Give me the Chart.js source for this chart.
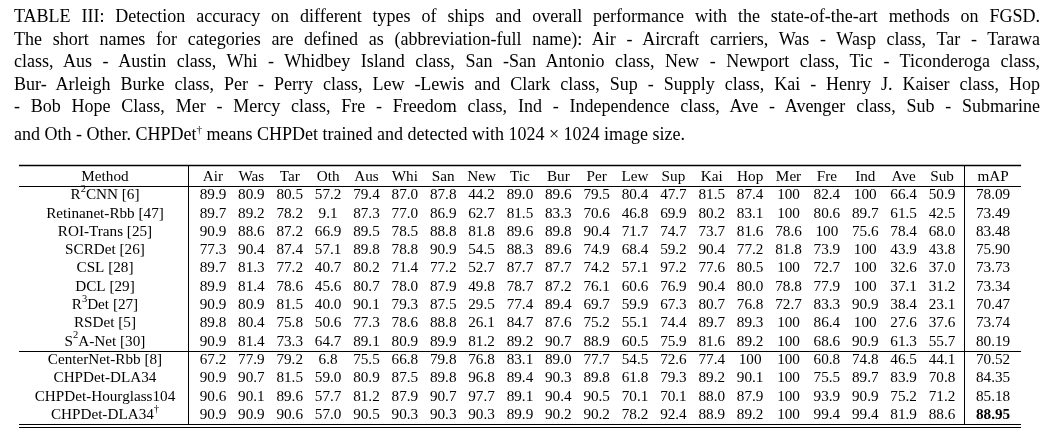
<!DOCTYPE html>
<html><head><meta charset="utf-8">
<script src="https://cdn.jsdelivr.net/npm/chart.js@4.4.0/dist/chart.umd.min.js"></script>
<style>
html,body{margin:0;padding:0;background:#fff;width:1053px;height:443px;overflow:hidden}
#cap{position:absolute;left:14px;top:5px;width:1026px;font-family:"Liberation Serif",serif;font-size:18px;line-height:22.6px;color:#000}
#cap span{display:block;white-space:nowrap;text-align:justify;text-align-last:justify}
#cap span.last{text-align-last:left}
#wrap{position:absolute;left:0;top:0;width:1053px;height:443px}
</style></head><body>
<div id="wrap"><canvas id="c"></canvas></div>
<div id="cap"><span>TABLE III: Detection accuracy on different types of ships and overall performance with the state-of-the-art methods on FGSD.</span><span>The short names for categories are defined as (abbreviation-full name): Air - Aircraft carriers, Was - Wasp class, Tar - Tarawa</span><span>class, Aus - Austin class, Whi - Whidbey Island class, San -San Antonio class, New - Newport class, Tic - Ticonderoga class,</span><span>Bur- Arleigh Burke class, Per - Perry class, Lew -Lewis and Clark class, Sup - Supply class, Kai - Henry J. Kaiser class, Hop</span><span>- Bob Hope Class, Mer - Mercy class, Fre - Freedom class, Ind - Independence class, Ave - Avenger class, Sub - Submarine</span><span class="last">and Oth - Other. CHPDet<sup style="font-size:11px">†</sup> means CHPDet trained and detected with 1024 × 1024 image size.</span></div>
<script>
const categories = ["Air","Was","Tar","Oth","Aus","Whi","San","New","Tic","Bur","Per","Lew","Sup","Kai","Hop","Mer","Fre","Ind","Ave","Sub"];
const methods = ["R^2CNN [6]","Retinanet-Rbb [47]","ROI-Trans [25]","SCRDet [26]","CSL [28]","DCL [29]","R^3Det [27]","RSDet [5]","S^2A-Net [30]","CenterNet-Rbb [8]","CHPDet-DLA34","CHPDet-Hourglass104","CHPDet-DLA34^†"];
const scores = [
["89.9","80.9","80.5","57.2","79.4","87.0","87.8","44.2","89.0","89.6","79.5","80.4","47.7","81.5","87.4","100","82.4","100","66.4","50.9"],
["89.7","89.2","78.2","9.1","87.3","77.0","86.9","62.7","81.5","83.3","70.6","46.8","69.9","80.2","83.1","100","80.6","89.7","61.5","42.5"],
["90.9","88.6","87.2","66.9","89.5","78.5","88.8","81.8","89.6","89.8","90.4","71.7","74.7","73.7","81.6","78.6","100","75.6","78.4","68.0"],
["77.3","90.4","87.4","57.1","89.8","78.8","90.9","54.5","88.3","89.6","74.9","68.4","59.2","90.4","77.2","81.8","73.9","100","43.9","43.8"],
["89.7","81.3","77.2","40.7","80.2","71.4","77.2","52.7","87.7","87.7","74.2","57.1","97.2","77.6","80.5","100","72.7","100","32.6","37.0"],
["89.9","81.4","78.6","45.6","80.7","78.0","87.9","49.8","78.7","87.2","76.1","60.6","76.9","90.4","80.0","78.8","77.9","100","37.1","31.2"],
["90.9","80.9","81.5","40.0","90.1","79.3","87.5","29.5","77.4","89.4","69.7","59.9","67.3","80.7","76.8","72.7","83.3","90.9","38.4","23.1"],
["89.8","80.4","75.8","50.6","77.3","78.6","88.8","26.1","84.7","87.6","75.2","55.1","74.4","89.7","89.3","100","86.4","100","27.6","37.6"],
["90.9","81.4","73.3","64.7","89.1","80.9","89.9","81.2","89.2","90.7","88.9","60.5","75.9","81.6","89.2","100","68.6","90.9","61.3","55.7"],
["67.2","77.9","79.2","6.8","75.5","66.8","79.8","76.8","83.1","89.0","77.7","54.5","72.6","77.4","100","100","60.8","74.8","46.5","44.1"],
["90.9","90.7","81.5","59.0","80.9","87.5","89.8","96.8","89.4","90.3","89.8","61.8","79.3","89.2","90.1","100","75.5","89.7","83.9","70.8"],
["90.6","90.1","89.6","57.7","81.2","87.9","90.7","97.7","89.1","90.4","90.5","70.1","70.1","88.0","87.9","100","93.9","90.9","75.2","71.2"],
["90.9","90.9","90.6","57.0","90.5","90.3","90.3","90.3","89.9","90.2","90.2","78.2","92.4","88.9","89.2","100","99.4","99.4","81.9","88.6"]
];
const mAP = ["78.09","73.49","83.48","75.90","73.73","73.34","70.47","73.74","80.19","70.52","84.35","85.18","88.95"];
const boldMAP = "88.95";

const X_METHOD=-1.815, X_MAP=21.33;
const cells=[];
cells.push({x:X_METHOD,y:0,t:"Method"});
categories.forEach((c,i)=>cells.push({x:i+1,y:0,t:c}));
cells.push({x:X_MAP,y:0,t:"mAP"});
methods.forEach((m,r)=>{
  cells.push({x:X_METHOD,y:r+1,t:m});
  scores[r].forEach((v,i)=>cells.push({x:i+1,y:r+1,t:v}));
  cells.push({x:X_MAP,y:r+1,t:mAP[r],b:mAP[r]===boldMAP});
});
const FONT='"Liberation Serif", serif';
function drawRich(ctx,txt,x,y,bold){
  const base=(bold?'bold ':'')+'15.2px '+FONT, sup='10.5px '+FONT;
  const parts=[];const re=/\^(.)/g;let last=0,m;
  while((m=re.exec(txt))){parts.push({s:txt.slice(last,m.index),sup:false});parts.push({s:m[1],sup:true});last=m.index+2;}
  parts.push({s:txt.slice(last),sup:false});
  let w=0;parts.forEach(p=>{ctx.font=p.sup?sup:base;p.w=ctx.measureText(p.s).width;w+=p.w;});
  let cx=x-w/2;
  parts.forEach(p=>{ctx.font=p.sup?sup:base;ctx.fillText(p.s,cx,p.sup?y-6:y);cx+=p.w;});
}
const tablePlugin={id:'tbl',afterDatasetsDraw(chart){
  const ctx=chart.ctx,xs=chart.scales.x,ys=chart.scales.y;
  const meta=chart.getDatasetMeta(0);
  ctx.save();ctx.fillStyle='#000';ctx.textBaseline='middle';
  meta.data.forEach((el,i)=>drawRich(ctx,cells[i].t,el.x,el.y+1,cells[i].b));
  ctx.strokeStyle='#000';
  const L=xs.getPixelForValue(-4.056),R=xs.getPixelForValue(22.06);
  const h=(v,w)=>{const y=Math.round(ys.getPixelForValue(v))+0.5;ctx.lineWidth=w;ctx.beginPath();ctx.moveTo(L,y);ctx.lineTo(R,y);ctx.stroke();};
  h(-0.6,1.6);h(0.55,1);h(9.56,1);h(13.55,1);h(13.72,1);
  const T=ys.getPixelForValue(-0.6),B=ys.getPixelForValue(13.55);
  [0.349,20.573].forEach(v=>{const x=Math.round(xs.getPixelForValue(v))+0.5;ctx.lineWidth=1;ctx.beginPath();ctx.moveTo(x,T);ctx.lineTo(x,B);ctx.stroke();});
  ctx.restore();
}};
new Chart(document.getElementById('c'),{
  type:'scatter',
  data:{datasets:[{data:cells.map(c=>({x:c.x,y:c.y})),pointRadius:0,pointHoverRadius:0}]},
  options:{responsive:true,maintainAspectRatio:false,animation:false,
    layout:{padding:0},
    plugins:{legend:{display:false},tooltip:{enabled:false}},
    events:[],
    scales:{
      x:{type:'linear',min:-4.551,max:22.893,display:false},
      y:{type:'linear',reverse:true,min:-9.617,max:14.59,display:false}
    }},
  plugins:[tablePlugin]
});
</script>
</body></html>
